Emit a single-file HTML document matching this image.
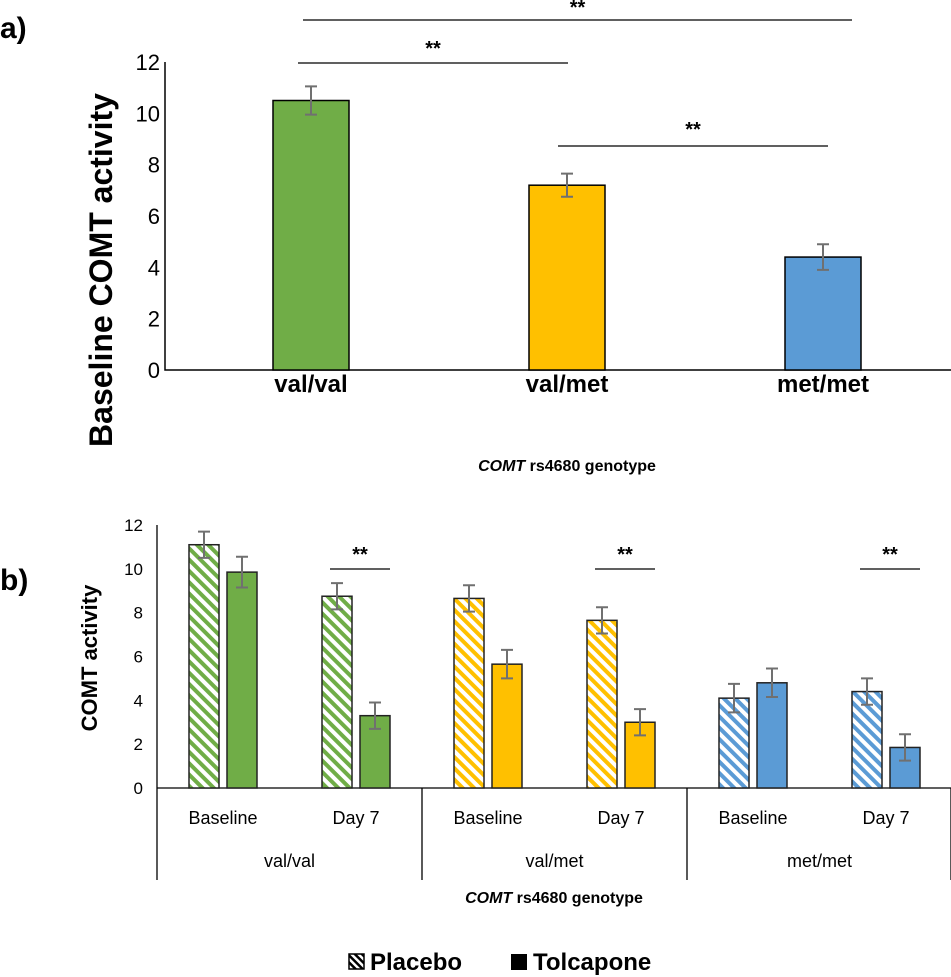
<!DOCTYPE html>
<html><head><meta charset="utf-8"><style>
body{margin:0;background:#fff}
svg{display:block;font-family:"Liberation Sans",Calibri,sans-serif}
</style></head><body>
<svg id="c" width="951" height="977" viewBox="0 0 951 977">
<defs>
<pattern id="hg" patternUnits="userSpaceOnUse" width="8" height="8" patternTransform="rotate(-45)"><rect width="8" height="8" fill="#fff"/><rect width="4" height="8" fill="#70AD47"/></pattern>
<pattern id="hy" patternUnits="userSpaceOnUse" width="8" height="8" patternTransform="rotate(-45)"><rect width="8" height="8" fill="#fff"/><rect width="4" height="8" fill="#FFC000"/></pattern>
<pattern id="hb" patternUnits="userSpaceOnUse" width="8" height="8" patternTransform="rotate(-45)"><rect width="8" height="8" fill="#fff"/><rect width="4" height="8" fill="#5B9BD5"/></pattern>
<pattern id="hk" patternUnits="userSpaceOnUse" width="5" height="5" patternTransform="rotate(-45)"><rect width="5" height="5" fill="#fff"/><rect width="2.5" height="5" fill="#000"/></pattern>
</defs>
<g id="pa"></g>
<g id="pb"></g>
</svg>
<script>
const aCats=["val/val","val/met","met/met"];
const aVals=[10.5,7.2,4.4];
const aErr=[0.55,0.45,0.5];
const aTicks=[0,2,4,6,8,10,12];
const bGroups=["val/val","val/met","met/met"];
const bSub=["Baseline","Day 7"];
const bPlacebo=[11.1,8.75,8.65,7.65,4.1,4.4];
const bTolcapone=[9.85,3.3,5.65,3.0,4.8,1.85];
const bErrP=[0.6,0.6,0.6,0.6,0.65,0.6];
const bErrT=[0.7,0.6,0.65,0.6,0.65,0.6];
const bTicks=[0,2,4,6,8,10,12];
const cols=["#70AD47","#FFC000","#5B9BD5"];
const hat=["url(#hg)","url(#hy)","url(#hb)"];
const NS="http://www.w3.org/2000/svg";
function mk(p,t,a,txt){const e=document.createElementNS(NS,t);for(const k in a)e.setAttribute(k,a[k]);if(txt!==undefined)e.textContent=txt;p.appendChild(e);return e;}
function errBar(g,x,y1,y2,w){
 const e=mk(g,"path",{d:`M${x},${y1}V${y2}M${x-w},${y1}H${x+w}M${x-w},${y2}H${x+w}`,stroke:"#707070","stroke-width":2,fill:"none"});
 
 
}
function sig(g,x1,x2,y,ty){
 const l=mk(g,"line",{x1:x1,x2:x2,y1:y,y2:y,stroke:"#000","stroke-width":1.2});
 
 
 const t=mk(g,"text",{x:(x1+x2)/2,y:ty,"text-anchor":"middle","font-size":20,"font-weight":"bold"},"**");
 
 
}
// Panel A
const pa=document.getElementById("pa");
const aY=v=>370-v*(308/12);
const aX=i=>311+i*256;
let t=mk(pa,"text",{x:0,y:38,"font-size":30,"font-weight":"bold"},"a)");


aTicks.forEach(v=>{const e=mk(pa,"text",{x:160,y:aY(v)+8,"text-anchor":"end","font-size":22},v);
 
 });
let ax=mk(pa,"path",{d:"M165,62V370H951",stroke:"#000","stroke-width":1.5,fill:"none"});


aVals.forEach((v,i)=>{
 const r=mk(pa,"rect",{x:aX(i)-38,y:aY(v),width:76,height:aY(0)-aY(v),fill:cols[i],stroke:"#000","stroke-width":1.5});
 
 
 errBar(pa,aX(i),aY(v+aErr[i]),aY(v-aErr[i]),6);
 const l=mk(pa,"text",{x:aX(i),y:392,"text-anchor":"middle","font-size":24,"font-weight":"bold"},aCats[i]);
 
 
});
sig(pa,303,852,20,14);sig(pa,298,568,63,55);sig(pa,558,828,146,136);
t=mk(pa,"text",{transform:"translate(112,270) rotate(-90)","text-anchor":"middle","font-size":32,"font-weight":"bold"},"Baseline COMT activity");


t=mk(pa,"text",{x:567,y:471,"text-anchor":"middle","font-size":16,"font-weight":"bold"});


t.innerHTML='<tspan font-style="italic">COMT</tspan> rs4680 genotype';
// Panel B
const pb=document.getElementById("pb");
const bY=v=>788-v*(263/12);
const gw=265;
const bX=k=>157+Math.floor(k/2)*gw+(k%2?199:66);
t=mk(pb,"text",{x:0,y:590,"font-size":30,"font-weight":"bold"},"b)");


bTicks.forEach(v=>{const e=mk(pb,"text",{x:143,y:bY(v)+6,"text-anchor":"end","font-size":17},v);
 
 });
ax=mk(pb,"path",{d:"M157,525V880M157,788H951M422,788V880M687,788V880M951,788V880",stroke:"#000","stroke-width":1.3,fill:"none"});


bPlacebo.forEach((v,k)=>{
 const g=Math.floor(k/2),cx=bX(k);
 let r=mk(pb,"rect",{x:cx-34,y:bY(v),width:30,height:bY(0)-bY(v),fill:hat[g],stroke:"#222","stroke-width":1.5});
 
 
 errBar(pb,cx-19,bY(v+bErrP[k]),bY(v-bErrP[k]),6);
 const w=bTolcapone[k];
 r=mk(pb,"rect",{x:cx+4,y:bY(w),width:30,height:bY(0)-bY(w),fill:cols[g],stroke:"#222","stroke-width":1.5});
 
 
 errBar(pb,cx+19,bY(w+bErrT[k]),bY(w-bErrT[k]),6);
 const l=mk(pb,"text",{x:cx,y:824,"text-anchor":"middle","font-size":18},bSub[k%2]);
 
 
});
bGroups.forEach((n,g)=>{
 const l=mk(pb,"text",{x:157+g*gw+gw/2,y:867,"text-anchor":"middle","font-size":18},n);
 
 
 sig(pb,157+g*gw+173,157+g*gw+233,569,561);
});
t=mk(pb,"text",{transform:"translate(97,658) rotate(-90)","text-anchor":"middle","font-size":22,"font-weight":"bold"},"COMT activity");


t=mk(pb,"text",{x:554,y:903,"text-anchor":"middle","font-size":16,"font-weight":"bold"});


t.innerHTML='<tspan font-style="italic">COMT</tspan> rs4680 genotype';
// legend
const lg=mk(pb,"g",{});


let s=mk(lg,"rect",{x:349,y:954,width:15,height:15,fill:"url(#hk)",stroke:"#000","stroke-width":1.5});


t=mk(lg,"text",{x:370,y:970,"font-size":24,"font-weight":"bold"},"Placebo");


s=mk(lg,"rect",{x:511,y:954,width:16,height:16,fill:"#000"});


t=mk(lg,"text",{x:533,y:970,"font-size":24,"font-weight":"bold"},"Tolcapone");


</script>
</body></html>
